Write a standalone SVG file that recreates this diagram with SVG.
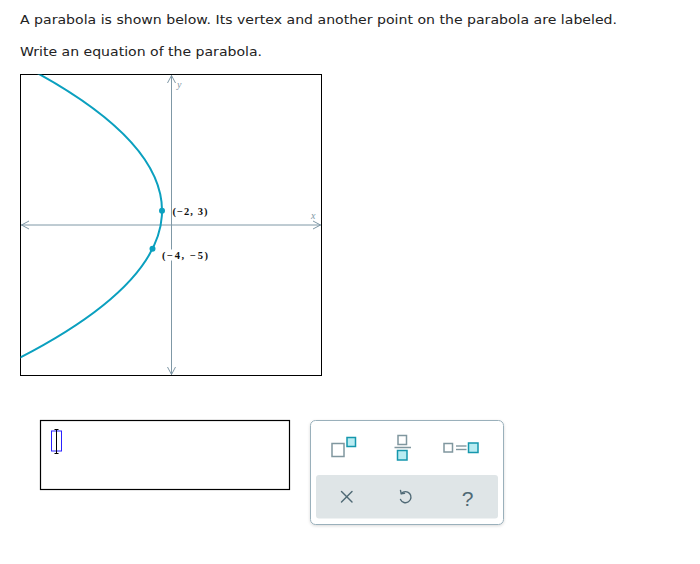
<svg xmlns="http://www.w3.org/2000/svg" width="700" height="564" viewBox="0 0 700 564">
<defs>
<style>
.q{font-family:"DejaVu Sans","Verdana",sans-serif;font-size:13px;fill:#222}
.ax{stroke:#7f98a6;stroke-width:1;fill:none}
.lbl{font-family:"Liberation Serif","Times New Roman",serif;font-size:10.5px;font-weight:bold;fill:#111}
.axl{font-family:"Liberation Serif","Times New Roman",serif;font-size:10px;font-style:italic;fill:#7f98a6}
.sq{fill:#fff;stroke:#80979f;stroke-width:1.5}
.sqc{fill:#b9ecf2;stroke:#1597ad;stroke-width:1.5}
.ic{stroke:#4f6975;stroke-width:1.4;fill:none;stroke-linecap:round}
</style>
<clipPath id="box"><rect x="20.5" y="74.5" width="301" height="301"/></clipPath>
<filter id="sh" x="-10%" y="-10%" width="120%" height="130%"><feDropShadow dx="0" dy="1" stdDeviation="1.5" flood-color="#000" flood-opacity="0.15"/></filter>
</defs>
<rect width="700" height="564" fill="#fff"/>
<text class="q" x="20" y="24" textLength="597" lengthAdjust="spacingAndGlyphs">A parabola is shown below. Its vertex and another point on the parabola are labeled.</text>
<text class="q" x="20" y="56" textLength="242" lengthAdjust="spacingAndGlyphs">Write an equation of the parabola.</text>

<g id="graph">
<rect x="20.5" y="74.5" width="301" height="301" fill="#fff" stroke="#000" stroke-width="1"/>
<g id="axes" class="ax">
<line x1="21" y1="225" x2="321" y2="225"/>
<line x1="171.5" y1="75" x2="171.5" y2="375"/>
<polyline points="29,221 21.5,225 29,229"/>
<polyline points="313,221 320.5,225 313,229"/>
<polyline points="167.5,83 171.5,75.5 175.5,83"/>
<polyline points="167.5,367 171.5,374.5 175.5,367"/>
</g>
<text class="axl" x="177" y="88">y</text>
<text class="axl" x="311" y="219">x</text>
<path d="M33.1,70.75 Q300.2,215.75 14,360.75" fill="none" stroke="#0ba0bf" stroke-width="2" clip-path="url(#box)"/>
<circle cx="162" cy="210.75" r="3" fill="#0ba0bf"/>
<circle cx="152.5" cy="248.75" r="3" fill="#0ba0bf"/>
<rect x="172.5" y="205.5" width="36" height="11" fill="#fff"/>
<rect x="161.5" y="249.5" width="47.5" height="11" fill="#fff"/>
<text class="lbl" x="172.5" y="215" textLength="35" lengthAdjust="spacing">(−2, 3)</text>
<text class="lbl" x="162" y="258.5" textLength="46" lengthAdjust="spacing">(−4, −5)</text>
</g>

<g id="answer">
<rect x="40.5" y="420.5" width="249" height="69" fill="#fff" stroke="#000" stroke-width="1.2"/>
<rect x="51.5" y="431" width="10" height="20" fill="none" stroke="#2a22ff" stroke-width="1"/>
<line x1="56.5" y1="430" x2="56.5" y2="453" stroke="#000" stroke-width="1"/>
<line x1="54.5" y1="429.5" x2="58.5" y2="429.5" stroke="#000" stroke-width="1"/>
<line x1="54.5" y1="453.5" x2="58.5" y2="453.5" stroke="#000" stroke-width="1"/>
</g>

<g id="keypad">
<rect x="310.5" y="420.5" width="193" height="104" rx="5" fill="#fff" stroke="#9ab0bb" stroke-width="1" filter="url(#sh)"/>
<rect x="316" y="475" width="182" height="43.5" rx="3" fill="#dfe5e7"/>
<rect class="sq" x="332" y="443.5" width="12" height="13"/>
<rect class="sqc" x="347" y="437.5" width="8.5" height="9"/>
<rect class="sq" x="398" y="435.5" width="8.5" height="9"/>
<line x1="394.5" y1="447.5" x2="411" y2="447.5" stroke="#80979f" stroke-width="1.5"/>
<rect class="sqc" x="397.5" y="450.5" width="9.5" height="9.5"/>
<rect class="sq" x="444" y="443.5" width="8.5" height="8.5"/>
<line x1="456" y1="446" x2="466.5" y2="446" stroke="#80979f" stroke-width="1.4"/>
<line x1="456" y1="449.5" x2="466.5" y2="449.5" stroke="#80979f" stroke-width="1.4"/>
<rect class="sqc" x="468.5" y="443" width="9.5" height="9.5"/>
<line class="ic" x1="341.5" y1="491.5" x2="352" y2="502"/>
<line class="ic" x1="352" y1="491.5" x2="341.5" y2="502"/>
<path class="ic" d="M401.3,493.6 A5.5,5.5 0 1 1 400.5,499.5"/>
<polyline class="ic" points="400.5,490.5 401.3,493.8 404.6,493.2"/>
<text x="467.5" y="505.5" text-anchor="middle" font-family="'Liberation Sans',Arial,sans-serif" font-size="21" fill="#4f6975">?</text>
</g>
</svg>
